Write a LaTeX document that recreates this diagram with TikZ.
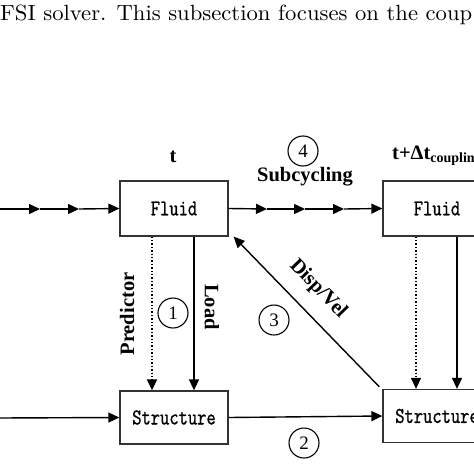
\documentclass[tikz,border=0pt]{standalone}
\usepackage{fontspec}
\usepackage{graphicx}
\usetikzlibrary{arrows.meta,positioning,calc}
\newfontfamily\libserif{Liberation Serif}
\newfontfamily\hdrfont{Latin Modern Roman}
\newfontfamily\boxfont{Latin Modern Mono}[FakeBold=1.2]
\newcommand\lblf{\fontsize{20.5}{24}\selectfont\libserif\bfseries}
\newcommand\numf{\fontsize{19}{21}\selectfont\libserif}
\newcommand\boxf{\fontsize{22.5}{26}\selectfont\boxfont}
\newcommand\boxtext[1]{\scalebox{0.8}[1]{\boxf #1}}
\begin{document}
\begin{tikzpicture}[x=1pt,y=-1pt,
  box/.style={draw=black!80, line width=1.3pt, minimum width=108pt, minimum height=55pt, inner sep=0pt},
  flow/.style={line width=1.4pt, -{Triangle[length=11pt,width=10pt]}},
  dotflow/.style={flow, dotted},
  num/.style={circle, draw, line width=1.1pt, minimum size=30pt, inner sep=0pt, font=\numf},
  lbl/.style={font=\lblf, inner sep=0pt}]
\useasboundingbox (0,0) rectangle (474,474);
\clip (0,0) rectangle (474,474);
\fill[white] (0,0) rectangle (474,474);

% header text
\node[anchor=base west, inner sep=0pt] (hdr) at (0,20) {\resizebox{472pt}{15.5pt}{\hdrfont FSI solver. This subsection focuses on the coup}};

% boxes
\node[box] (f1) at (174,208.5) {\boxtext{Fluid}};
\node[box, minimum height=53pt] (s1) at (174,417.5) {\boxtext{Structure}};
\node[box] (f2) at (437,208.5) {\boxtext{Fluid}};
\node[box, minimum height=53pt] (s2) at (437,416) {\boxtext{Structure}};

% incoming fluid chain
\coordinate (i0) at (-2,209);
\coordinate (i1) at (40,209);
\coordinate (i2) at (79,209);
\draw[flow] (i0) -- (i1);
\draw[flow] (i1) -- (i2);
\draw[flow] (i2) -- (f1.west);

% subcycling chain
\coordinate (c1) at (267,209);
\coordinate (c2) at (305,209);
\coordinate (c3) at (344,209);
\draw[flow] (f1.east) -- (c1);
\draw[flow] (c1) -- (c2);
\draw[flow] (c2) -- (c3);
\draw[flow] (c3) -- (f2.west);

% structure chain
\coordinate (b0) at (-2,418);
\draw[flow] (b0) -- (s1.west);
\draw[flow] (s1.east) -- (s2.west);

% vertical couplings
\draw[dotflow] ([xshift=-22pt]f1.south) -- ([xshift=-22pt]s1.north);
\draw[flow] ([xshift=20pt]f1.south) -- ([xshift=20pt]s1.north);
\draw[dotflow] ([xshift=-21pt]f2.south) -- ([xshift=-21pt]s2.north);
\draw[flow] ([xshift=20pt]f2.south) -- ([xshift=20pt]s2.north);

% disp/vel
\draw[flow] ([xshift=-3pt,yshift=2pt]s2.north west) -- ([xshift=5pt]f1.south east);

% labels
\node[lbl] (lt) at (173,157) {t};
\node[lbl] (lsub) at (305,177) {Subcycling};
\node[lbl, anchor=west] (ltdt) at (392,156) {t+Δt\textsubscript{\fontsize{14}{16}\selectfont couplin}};
\node[lbl, rotate=90] (lpred) at (127,314) {Predictor};
\node[lbl, rotate=-90] (lload) at (212,307) {Load};
\node[lbl, rotate=-46] (ldisp) at (318,289) {Disp/Vel};

% numbers
\node[num] (n4) at (303,151) {4};
\node[num] (n1) at (173,313) {1};
\node[num] (n3) at (274,320) {3};
\node[num] (n2) at (304,443) {2};
\end{tikzpicture}
\end{document}
